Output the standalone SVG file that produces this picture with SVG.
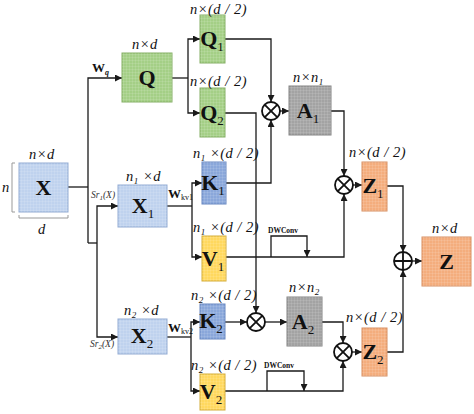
<svg xmlns="http://www.w3.org/2000/svg" width="474" height="414" viewBox="0 0 474 414">
<defs>
<pattern id="grid" width="3" height="3" patternUnits="userSpaceOnUse">
<path d="M0,0.5 H3 M0.5,0 V3" stroke="#ffffff" stroke-opacity="0.18" stroke-width="0.6" fill="none"/>
</pattern>
<marker id="arr" markerWidth="7" markerHeight="7" refX="7" refY="3.5" orient="auto" markerUnits="userSpaceOnUse">
<path d="M0,0 L7,3.5 L0,7 z" fill="#1a1a1a"/>
</marker>
<style>
.ln{fill:none;stroke:#1a1a1a;stroke-width:1.3}
.ar{fill:none;stroke:#1a1a1a;stroke-width:1.3;marker-end:url(#arr)}
.op{fill:#fff;stroke:#111;stroke-width:1.8}
.g{fill:#a4cf86;stroke:#86b067}
.b{fill:#bfd2ee;stroke:#93acd3}
.k{fill:#8aa7da;stroke:#6888c2}
.y{fill:#ffd85e;stroke:#d4ad3a}
.a{fill:#a3a3a3;stroke:#848484}
.o{fill:#f4ad7d;stroke:#d78f62}
.gr{fill:url(#grid);stroke:none}
.big{font-family:"Liberation Serif",serif;font-weight:bold;font-size:22px;fill:#111;text-anchor:middle}
.sub{font-weight:normal;font-size:13px}
.dim{font-family:"Liberation Serif",serif;font-style:italic;font-size:14.5px;fill:#111;letter-spacing:0.5px}
.w{font-family:"Liberation Serif",serif;font-weight:bold;font-size:13px;fill:#111}
.sr{font-family:"Liberation Serif",serif;font-style:italic;font-size:9.5px;fill:#333}
.dw{font-family:"Liberation Serif",serif;font-weight:bold;font-size:7.5px;fill:#111}
</style>
</defs>
<rect width="474" height="414" fill="#ffffff"/>

<g id="connectors">
<path class="ln" d="M68,187 H88"/>
<path class="ar" d="M88,243 V78 H122"/>
<path class="ln" d="M88,243 H97"/>
<path class="ar" d="M97,243 V206 H118"/>
<path class="ar" d="M97,243 V337 H118"/>
<path class="ln" d="M172,78 H188"/>
<path class="ar" d="M188,78 V39 H200"/>
<path class="ar" d="M188,78 V113 H200"/>
<path class="ar" d="M225,39 H271 V102"/>
<path class="ar" d="M225,113 H256 V313"/>
<path class="ar" d="M226,183 H271 V120"/>
<path class="ar" d="M280,111 H289"/>
<path class="ar" d="M331,111 H344 V176"/>
<path class="ar" d="M353,185 H362"/>
<path class="ar" d="M226,257 H344 V194"/>
<path class="ar" d="M271,257 V236 H307 V257"/>
<path class="ar" d="M387,186 H403 V252"/>
<path class="ar" d="M412,261 H422"/>
<path class="ln" d="M167,206 H192"/>
<path class="ar" d="M192,206 V183 H202"/>
<path class="ar" d="M192,206 V257 H202"/>
<path class="ln" d="M167,337 H191"/>
<path class="ar" d="M191,337 V322 H200"/>
<path class="ar" d="M191,337 V391 H200"/>
<path class="ar" d="M225,322 H247"/>
<path class="ar" d="M265,322 H287"/>
<path class="ar" d="M322,322 H343 V343"/>
<path class="ar" d="M352,352 H362"/>
<path class="ar" d="M225,391 H343 V361"/>
<path class="ar" d="M267,391 V371 H304 V391"/>
<path class="ar" d="M387,352 H403 V270"/>
</g>

<g id="labels">
<text class="w" x="92" y="72">W<tspan font-size="8" font-style="italic" dy="3">q</tspan></text>
<text class="w" x="168" y="198">W<tspan font-size="8" font-weight="normal" dy="2">kv1</tspan></text>
<text class="w" x="168" y="332">W<tspan font-size="8" font-weight="normal" dy="2">kv2</tspan></text>
<text class="sr" x="91" y="198">Sr<tspan font-size="7" dy="2">1</tspan><tspan dy="-2">(X)</tspan></text>
<text class="sr" x="90" y="347">Sr<tspan font-size="7" dy="2">2</tspan><tspan dy="-2">(X)</tspan></text>
<text class="dw" x="268" y="233">DWConv</text>
<text class="dw" x="264" y="368">DWConv</text>
</g>

<g id="node-X">
<rect class="b" x="19" y="163" width="49" height="49"/><rect class="gr" x="19" y="163" width="49" height="49"/>
<text class="big" x="43.5" y="195">X</text>
<text class="dim" x="29" y="159">n×d</text>
<path d="M15,163 H12 V212 H15 M19,215 V218 H68 V215" fill="none" stroke="#999" stroke-width="1"/>
<text class="dim" x="2" y="192">n</text>
<text class="dim" x="38" y="234">d</text>
</g>

<g id="node-Q">
<rect class="g" x="122" y="53" width="50" height="49"/><rect class="gr" x="122" y="53" width="50" height="49"/>
<text class="big" x="147" y="85">Q</text>
<text class="dim" x="132" y="49">n×d</text>
</g>

<g id="node-Q1">
<rect class="g" x="200" y="15" width="25" height="48"/><rect class="gr" x="200" y="15" width="25" height="48"/>
<text class="big" x="212" y="46">Q<tspan class="sub" dy="5">1</tspan></text>
<text class="dim" x="190" y="14">n×(d / 2)</text>
</g>

<g id="node-Q2">
<rect class="g" x="200" y="88" width="25" height="49"/><rect class="gr" x="200" y="88" width="25" height="49"/>
<text class="big" x="212" y="120">Q<tspan class="sub" dy="5">2</tspan></text>
<text class="dim" x="190" y="86">n×(d / 2)</text>
</g>

<g id="node-X1">
<rect class="b" x="118" y="185" width="49" height="42"/><rect class="gr" x="118" y="185" width="49" height="42"/>
<text class="big" x="143" y="213">X<tspan class="sub" dy="5">1</tspan></text>
<text class="dim" x="126" y="181">n<tspan font-size="9" dy="3">1</tspan><tspan dy="-3"> ×d</tspan></text>
</g>

<g id="node-K1">
<rect class="k" x="202" y="162" width="24" height="42"/><rect class="gr" x="202" y="162" width="24" height="42"/>
<text class="big" x="213" y="190">K<tspan class="sub" dy="5">1</tspan></text>
<text class="dim" x="193" y="158">n<tspan font-size="9" dy="3">1</tspan><tspan dy="-3"> ×(d / 2)</tspan></text>
</g>

<g id="node-V1">
<rect class="y" x="202" y="236" width="24" height="45"/><rect class="gr" x="202" y="236" width="24" height="45"/>
<text class="big" x="213" y="266">V<tspan class="sub" dy="5">1</tspan></text>
<text class="dim" x="193" y="232">n<tspan font-size="9" dy="3">1</tspan><tspan dy="-3"> ×(d / 2)</tspan></text>
</g>

<g id="node-X2">
<rect class="b" x="118" y="319" width="49" height="35"/><rect class="gr" x="118" y="319" width="49" height="35"/>
<text class="big" x="142" y="343">X<tspan class="sub" dy="5">2</tspan></text>
<text class="dim" x="124" y="315">n<tspan font-size="9" dy="3">2</tspan><tspan dy="-3"> ×d</tspan></text>
</g>

<g id="node-K2">
<rect class="k" x="200" y="304" width="25" height="35"/><rect class="gr" x="200" y="304" width="25" height="35"/>
<text class="big" x="211" y="328">K<tspan class="sub" dy="5">2</tspan></text>
<text class="dim" x="191" y="300">n<tspan font-size="9" dy="3">2</tspan><tspan dy="-3"> ×(d / 2)</tspan></text>
</g>

<g id="node-V2">
<rect class="y" x="200" y="374" width="25" height="36"/><rect class="gr" x="200" y="374" width="25" height="36"/>
<text class="big" x="211" y="399">V<tspan class="sub" dy="5">2</tspan></text>
<text class="dim" x="191" y="370">n<tspan font-size="9" dy="3">2</tspan><tspan dy="-3"> ×(d / 2)</tspan></text>
</g>

<g id="node-A1">
<rect class="a" x="289" y="86" width="42" height="49"/><rect class="gr" x="289" y="86" width="42" height="49"/>
<text class="big" x="308" y="118">A<tspan class="sub" dy="5">1</tspan></text>
<text class="dim" x="293" y="82">n×n<tspan font-size="9" dy="3">1</tspan></text>
</g>

<g id="node-A2">
<rect class="a" x="287" y="297" width="35" height="49"/><rect class="gr" x="287" y="297" width="35" height="49"/>
<text class="big" x="303" y="329">A<tspan class="sub" dy="5">2</tspan></text>
<text class="dim" x="289" y="292">n×n<tspan font-size="9" dy="3">2</tspan></text>
</g>

<g id="node-Z1">
<rect class="o" x="362" y="162" width="25" height="49"/><rect class="gr" x="362" y="162" width="25" height="49"/>
<text class="big" x="373" y="193">Z<tspan class="sub" dy="5">1</tspan></text>
<text class="dim" x="349" y="157">n×(d / 2)</text>
</g>

<g id="node-Z2">
<rect class="o" x="362" y="328" width="25" height="48"/><rect class="gr" x="362" y="328" width="25" height="48"/>
<text class="big" x="373" y="359">Z<tspan class="sub" dy="5">2</tspan></text>
<text class="dim" x="346" y="322">n×(d / 2)</text>
</g>

<g id="node-Z">
<rect class="o" x="422" y="237" width="49" height="49"/><rect class="gr" x="422" y="237" width="49" height="49"/>
<text class="big" x="446.5" y="269">Z</text>
<text class="dim" x="432" y="233">n×d</text>
</g>

<g id="op-mul1"><circle class="op" cx="271" cy="111" r="9"/><path d="M264.6,104.6 L277.4,117.4 M277.4,104.6 L264.6,117.4" stroke="#111" stroke-width="1.8"/></g>
<g id="op-mul2"><circle class="op" cx="344" cy="185" r="9"/><path d="M337.6,178.6 L350.4,191.4 M350.4,178.6 L337.6,191.4" stroke="#111" stroke-width="1.8"/></g>
<g id="op-mul3"><circle class="op" cx="256" cy="322" r="9"/><path d="M249.6,315.6 L262.4,328.4 M262.4,315.6 L249.6,328.4" stroke="#111" stroke-width="1.8"/></g>
<g id="op-mul4"><circle class="op" cx="343" cy="352" r="9"/><path d="M336.6,345.6 L349.4,358.4 M349.4,345.6 L336.6,358.4" stroke="#111" stroke-width="1.8"/></g>
<g id="op-add"><circle class="op" cx="403" cy="261" r="9"/><path d="M394,261 H412 M403,252 V270" stroke="#111" stroke-width="1.8"/></g>
</svg>
